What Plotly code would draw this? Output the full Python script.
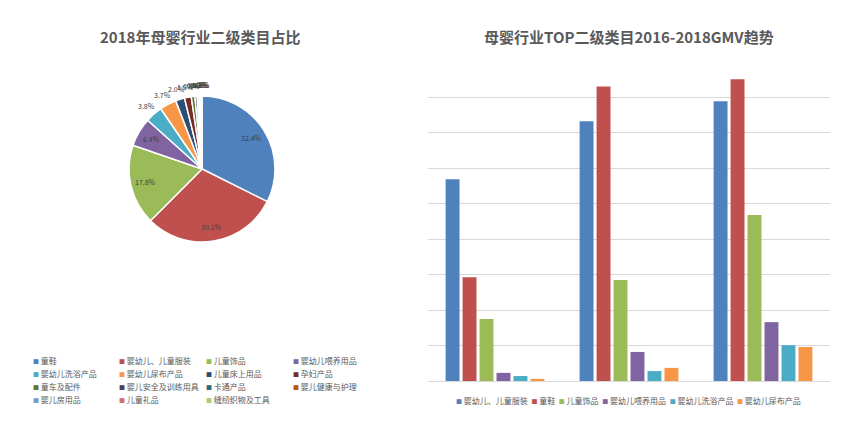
import math
import plotly.graph_objects as go

# ---- Pie data (2018 share, %) ----
pie_labels = ["童鞋", "婴幼儿、儿童服装", "儿童饰品", "婴幼儿喂养用品",
              "婴幼儿洗浴产品", "婴幼儿尿布产品", "儿童床上用品", "孕妇产品",
              "童车及配件", "婴儿安全及训练用具", "卡通产品", "婴儿健康与护理",
              "婴儿房用品", "儿童礼品", "缝纫织物及工具"]
pie_values = [32.4, 30.1, 17.8, 6.4, 3.8, 3.7, 2.0, 1.5, 0.8, 0.5, 0.4, 0.3, 0.2, 0.1, 0.05]
pie_colors = ["#4F81BD", "#C0504D", "#9BBB59", "#8064A2", "#4BACC6", "#F79646",
              "#2C4D75", "#772C2A", "#5F7530", "#4D3B62", "#276A7C", "#B65708",
              "#729ACA", "#CD7371", "#AFC97A"]

# ---- Bar data (GMV trend, relative units) ----
years = ["2016", "2017", "2018"]
bar_names = ["婴幼儿、儿童服装", "童鞋", "儿童饰品", "婴幼儿喂养用品", "婴幼儿洗浴产品", "婴幼儿尿布产品"]
bar_colors = ["#4F81BD", "#C0504D", "#9BBB59", "#8064A2", "#4BACC6", "#F79646"]
bar_values = [
    [5.69, 7.33, 7.89],
    [2.93, 8.31, 8.51],
    [1.75, 2.85, 4.68],
    [0.23, 0.82, 1.66],
    [0.14, 0.28, 1.01],
    [0.06, 0.37, 0.96],
]

FONT = "Noto Sans CJK SC"
GRAY = "#595959"
W, H = 854, 421


def px(x):
    return x / W


def py(y):
    return (H - y) / H


# pie placement (pixels)
PIE_CX, PIE_CY, PIE_R = 202, 169, 73
N_INSIDE = 4  # the first slices carry their label inside

fig = go.Figure()

fig.add_trace(go.Pie(
    labels=pie_labels, values=pie_values, sort=False, direction="clockwise",
    rotation=0,
    marker=dict(colors=pie_colors, line=dict(color="white", width=1.5)),
    textinfo="none",
    domain=dict(x=[px(PIE_CX - PIE_R), px(PIE_CX + PIE_R)],
                y=[py(PIE_CY + PIE_R), py(PIE_CY - PIE_R)]),
    showlegend=False, hoverinfo="label+percent",
))

for name, color, vals in zip(bar_names, bar_colors, bar_values):
    fig.add_trace(go.Bar(
        x=years, y=vals, name=name, marker=dict(color=color, line=dict(width=0)),
        xaxis="x", yaxis="y", showlegend=False,
    ))

annotations = [
    dict(text="<b>2018年母婴行业二级类目占比</b>", x=px(200), y=py(37), xanchor="center",
         font=dict(size=15, color=GRAY, family=FONT)),
    dict(text="<b>母婴行业TOP二级类目2016-2018GMV趋势</b>", x=px(628.5), y=py(37), xanchor="center",
         font=dict(size=15, color=GRAY, family=FONT)),
]

# pie percentage labels, placed like Excel's data labels (derived from the values)
total = sum(pie_values)
cum = 0.0
for i, v in enumerate(pie_values):
    frac = v / total
    mid = (cum + frac / 2) * 2 * math.pi
    cum += frac
    rr = PIE_R * 0.8 if i < N_INSIDE else PIE_R + 11
    lx = PIE_CX + rr * math.sin(mid)
    ly = PIE_CY - rr * math.cos(mid)
    annotations.append(dict(text=f"{frac * 100:.1f}%", x=px(lx), y=py(ly), xanchor="center",
                            font=dict(size=7, color="#404040", family=FONT)))

# pie legend: 4 columns, built from the pie arrays
col_x = [31, 117, 204, 291]
row_y = [360.5, 373.5, 386.5, 399.5]
for i, (lab, col) in enumerate(zip(pie_labels, pie_colors)):
    annotations.append(dict(
        text=f"<span style='color:{col};font-size:6px'>■</span> {lab}",
        x=px(col_x[i % 4]), y=py(row_y[i // 4]), xanchor="left",
        font=dict(size=8, color=GRAY, family=FONT)))

# bar legend: one centered row, built from the bar arrays
legend_txt = "  ".join(
    f"<span style='color:{c};font-size:6px'>■</span> {n}" for n, c in zip(bar_names, bar_colors))
annotations.append(dict(text=legend_txt, x=px(628.5), y=py(400), xanchor="center",
                        font=dict(size=8, color=GRAY, family=FONT)))

for a in annotations:
    a.setdefault("xref", "paper")
    a.setdefault("yref", "paper")
    a.setdefault("showarrow", False)
    a.setdefault("yanchor", "middle")

fig.update_layout(
    width=W, height=H,
    margin=dict(l=0, r=0, t=0, b=0, autoexpand=False),
    paper_bgcolor="white", plot_bgcolor="white",
    font=dict(family=FONT, color=GRAY),
    barmode="group", bargap=0.24, bargroupgap=0.18,
    xaxis=dict(domain=[px(428), px(830)], showticklabels=False, showgrid=False,
               showline=True, linecolor="#D9D9D9", linewidth=1, ticks=""),
    yaxis=dict(domain=[py(381), py(62)], range=[0, 9], dtick=1, showticklabels=False,
               showgrid=True, gridcolor="#D9D9D9", gridwidth=1, zeroline=False, ticks=""),
    showlegend=False,
    annotations=annotations,
)

fig.write_html("out.html")
